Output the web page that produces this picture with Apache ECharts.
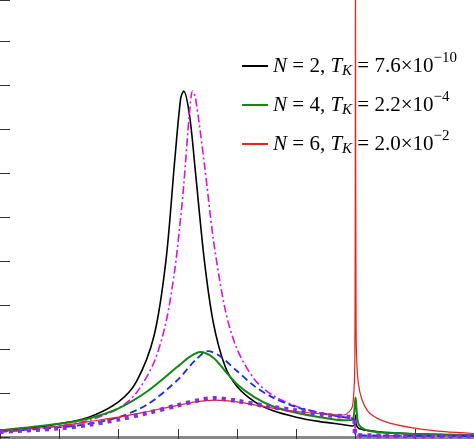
<!DOCTYPE html><html><head><meta charset="utf-8"><script src="https://cdn.jsdelivr.net/npm/echarts@6/dist/echarts.min.js"></script></head><body style="margin:0"><div id="c" style="width:474px;height:439px"></div><script>
const blackN2=[[0,0.15],[0.5,0.2],[1,0.3],[1.5,0.45],[2,0.8],[2.3,1.25],[2.6,2.3],[2.8,4.0],[2.95,6.3],[3.05,7.7],[3.1,7.86],[3.2,7.3],[3.3,6.0],[3.45,4.0],[3.6,2.6],[3.8,1.6],[4,1.15],[4.3,0.8],[4.6,0.6],[5,0.45],[5.4,0.35],[5.8,0.28],[5.95,0.25],[5.99,0.3],[6,0.5],[6.01,0.3],[6.05,0.2],[6.2,0.15],[6.5,0.1],[7,0.07],[7.5,0.05],[8,0.04]];
const magentaN2=[[0,0.12],[0.5,0.17],[1,0.25],[1.5,0.38],[2,0.65],[2.3,1.0],[2.6,1.7],[2.8,2.6],[2.95,3.8],[3.05,5.0],[3.1,5.7],[3.2,7.4],[3.25,7.86],[3.3,7.7],[3.45,6.2],[3.6,4.5],[3.8,2.9],[4,2.0],[4.3,1.3],[4.6,0.95],[5,0.7],[5.4,0.55],[5.8,0.45],[5.95,0.42],[5.99,0.3],[6,0.05],[6.5,0.03],[8,0.02]];
const greenN4=[[0,0.15],[1,0.3],[1.5,0.42],[2,0.65],[2.5,1.05],[3,1.6],[3.2,1.82],[3.38,1.93],[3.6,1.8],[3.8,1.5],[4,1.2],[4.3,0.9],[4.6,0.7],[5,0.55],[5.4,0.45],[5.8,0.38],[5.95,0.4],[6,0.9],[6.05,0.3],[6.2,0.15],[6.5,0.1],[7,0.07],[8,0.04]];
const blueN4=[[0,0.12],[1,0.22],[1.5,0.3],[2,0.45],[2.5,0.75],[3,1.3],[3.3,1.75],[3.51,1.95],[3.7,1.85],[4,1.5],[4.3,1.15],[4.6,0.9],[5,0.68],[5.4,0.55],[5.8,0.45],[5.95,0.43],[5.99,0.3],[6,0.05],[6.5,0.03],[8,0.02]];
const redN6=[[0,0.12],[1,0.25],[1.5,0.35],[2,0.45],[2.5,0.58],[3,0.72],[3.3,0.8],[3.63,0.84],[4,0.8],[4.5,0.68],[5,0.58],[5.5,0.52],[5.8,0.5],[5.95,0.7],[5.99,2],[6,11],[6.01,2.5],[6.05,1.2],[6.2,0.6],[6.5,0.35],[7,0.2],[7.5,0.12],[8,0.08]];
const purpleN6=[[0,0.12],[1,0.2],[1.5,0.28],[2,0.4],[2.5,0.55],[3,0.72],[3.4,0.85],[3.6,0.88],[4,0.82],[4.5,0.7],[5,0.6],[5.5,0.5],[5.9,0.45],[5.98,0.4],[6,0.05],[6.5,0.03],[8,0.02]];
const legendNames=['N2','N4','N6'];
const legendText={N2:['2','7.6','−10'],N4:['4','2.2','−4'],N6:['6','2.0','−2']};
const ch=echarts.init(document.getElementById('c'));
const ax={min:0,max:8,interval:1,axisLabel:{show:false},splitLine:{show:false},axisTick:{inside:true,length:8,lineStyle:{color:'#333'}}};
const ser=(n,d,c,t,w)=>({name:n,type:'line',data:d,showSymbol:false,smooth:0.3,clip:true,lineStyle:{color:c,type:t,width:w},itemStyle:{color:c},z:3});
ch.setOption({animation:false,
grid:{left:0,right:0,top:0,bottom:2},
xAxis:[Object.assign({type:'value',position:'bottom',axisLine:{lineStyle:{color:'#888',width:3}}},ax),
Object.assign({type:'value',position:'top',axisLine:{show:false}},ax)],
yAxis:[{type:'value',min:0,max:9.93,interval:1,position:'left',axisLine:{show:false},axisLabel:{show:false},splitLine:{show:false},axisTick:{inside:true,length:10,lineStyle:{color:'#333'}}},
{type:'value',min:0,max:9.93,interval:1,position:'right',axisLine:{show:false},axisLabel:{show:false},splitLine:{show:false},axisTick:{inside:true,length:10,lineStyle:{color:'#333'}}}],
legend:{data:legendNames,orient:'vertical',right:12,top:46,itemGap:11,itemWidth:26,itemHeight:2,icon:'rect',
formatter:n=>{const t=legendText[n];return `{i|N} = ${t[0]}, {i|T}{sub|K} = ${t[1]}×10{sup|${t[2]}}`;},
textStyle:{fontFamily:'Liberation Serif',fontSize:21,color:'#000',rich:{i:{fontStyle:'italic',fontFamily:'Liberation Serif',fontSize:21},sub:{fontStyle:'italic',fontFamily:'Liberation Serif',fontSize:15,padding:[11,0,0,0]},sup:{fontFamily:'Liberation Serif',fontSize:15,padding:[0,0,15,0]}}}},
series:[ser('N2',blackN2,'#000','solid',1.6),ser('mag',magentaN2,'#e010e0',[8,3,2,3],1.6),ser('N4',greenN4,'#118811','solid',2),ser('blue',blueN4,'#1a2ee0',[7,4],1.8),ser('N6',redN6,'#e8231a','solid',1.2),ser('pur',purpleN6,'#8a2be2',[4,5],4.5)]
});
</script></body></html>
